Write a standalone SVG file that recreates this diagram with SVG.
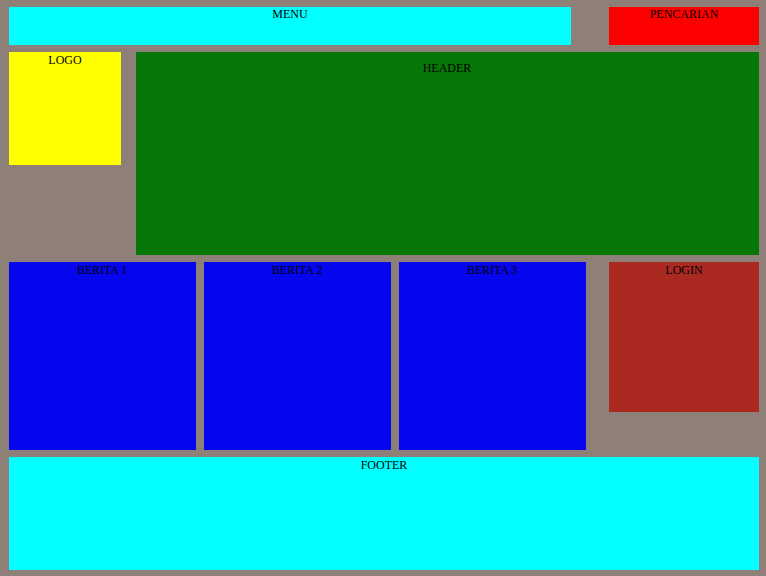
<svg xmlns="http://www.w3.org/2000/svg" width="766" height="576" viewBox="0 0 766 576">
  <style>
    text { font-family: "Liberation Serif", "Times New Roman", serif; font-size: 12px; fill: #000; text-anchor: middle; }
  </style>
  <rect x="0" y="0" width="766" height="576" fill="#8e8079"/>
  <g id="menu"><rect x="9" y="7" width="562" height="38" fill="#00ffff"/><text x="290" y="18">MENU</text></g>
  <g id="pencarian"><rect x="609" y="7" width="150" height="38" fill="#ff0000"/><text x="684" y="18">PENCARIAN</text></g>
  <g id="logo"><rect x="9" y="52" width="112" height="113" fill="#ffff00"/><text x="65" y="64">LOGO</text></g>
  <g id="header"><rect x="136" y="52" width="623" height="203" fill="#077807"/><text x="447" y="72">HEADER</text></g>
  <g id="berita1"><rect x="9" y="262" width="187" height="188" fill="#0505ee"/><text x="102" y="274">BERITA 1</text></g>
  <g id="berita2"><rect x="204" y="262" width="187" height="188" fill="#0505ee"/><text x="297" y="274">BERITA 2</text></g>
  <g id="berita3"><rect x="399" y="262" width="187" height="188" fill="#0505ee"/><text x="492" y="274">BERITA 3</text></g>
  <g id="login"><rect x="609" y="262" width="150" height="150" fill="#aa2a22"/><text x="684" y="274">LOGIN</text></g>
  <g id="footer"><rect x="9" y="457" width="750" height="113" fill="#00ffff"/><text x="384" y="469">FOOTER</text></g>
  <g id="connectors"/>
</svg>
